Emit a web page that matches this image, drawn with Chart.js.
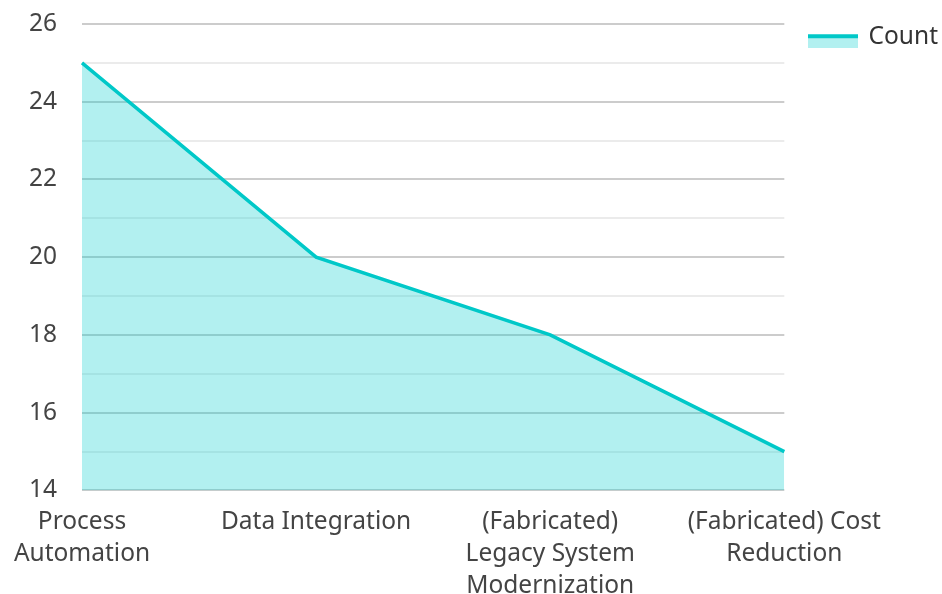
<!DOCTYPE html>
<html>
<head>
<meta charset="utf-8">
<script src="https://cdn.jsdelivr.net/npm/chart.js@4"></script>
<style>
  html, body { margin: 0; padding: 0; background: #fff; }
  #wrap { width: 942px; height: 594px; }
</style>
</head>
<body>
<div id="wrap"><canvas id="chart"></canvas></div>
<script>
const categories = [
    ['Process', 'Automation'],
    'Data Integration',
    ['(Fabricated)', 'Legacy System', 'Modernization'],
    ['(Fabricated) Cost', 'Reduction']
];
const countValues = [25, 20, 18, 15];
const yTicks = [14, 16, 18, 20, 22, 24, 26];

const lineColor = '#00c8c8';
const fillColor = 'rgba(0, 204, 204, 0.3)';

// legend swatch: thick line on top of a filled box, sitting a bit low
function makeSwatch() {
    const c = document.createElement('canvas');
    c.width = 50;
    c.height = 22;
    const g = c.getContext('2d');
    g.fillStyle = fillColor;
    g.fillRect(0, 8, 50, 14);
    g.fillStyle = lineColor;
    g.fillRect(0, 8, 50, 4);
    return c;
}

Chart.defaults.font.family = '"Noto Sans", "Open Sans", sans-serif';
Chart.defaults.font.size = 24.5;
Chart.defaults.font.lineHeight = 1.3;
Chart.defaults.color = '#444';

new Chart(document.getElementById('chart'), {
    type: 'line',
    data: {
        labels: categories,
        datasets: [{
            label: 'Count',
            data: countValues,
            borderColor: lineColor,
            backgroundColor: fillColor,
            borderWidth: 3.5,
            fill: 'start',
            pointRadius: 0,
            tension: 0
        }]
    },
    options: {
        responsive: true,
        maintainAspectRatio: false,
        animation: false,
        layout: { padding: { top: 0, right: -6, left: 4, bottom: -16 } },
        plugins: {
            legend: {
                position: 'right',
                align: 'start',
                labels: {
                    usePointStyle: true,
                    pointStyle: makeSwatch(),
                    pointStyleWidth: 47,
                    boxHeight: 14,
                    padding: 25,
                    color: '#333'
                }
            },
            tooltip: { enabled: false }
        },
        scales: {
            x: {
                offset: false,
                grid: { display: false },
                border: { display: false },
                ticks: { maxRotation: 0, autoSkip: false, padding: 8 }
            },
            y: {
                min: 14,
                max: 26,
                border: { display: false },
                afterFit: scale => { scale.width = 78; },
                grid: {
                    drawTicks: true,
                    tickLength: 17,
                    tickColor: 'rgba(0,0,0,0)',
                    lineWidth: 2,
                    color: ctx => (yTicks.includes(ctx.tick.value) ? 'rgba(0,0,0,0.2)' : 'rgba(0,0,0,0.08)')
                },
                ticks: {
                    stepSize: 1,
                    padding: 8,
                    callback: v => (yTicks.includes(v) ? v : '')
                }
            }
        }
    }
});
</script>
</body>
</html>
